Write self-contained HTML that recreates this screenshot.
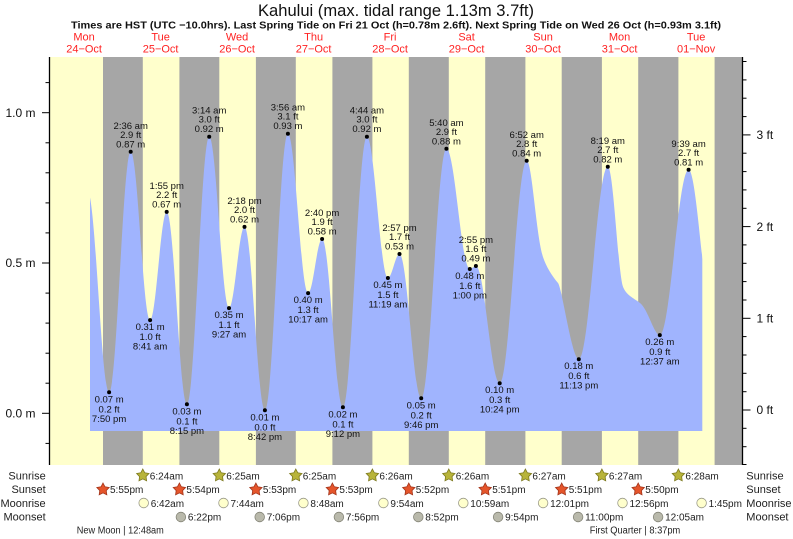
<!DOCTYPE html>
<html><head><meta charset="utf-8"><style>
html,body{margin:0;padding:0;background:#fff;}
svg{display:block;font-family:"Liberation Sans",Arial,sans-serif;}
</style></head><body>
<svg width="793" height="539" viewBox="0 0 793 539" xmlns="http://www.w3.org/2000/svg">
<defs>
<path id="star" d="M0,-6.5 L1.99,-2.75 L6.18,-2.01 L3.23,1.05 L3.82,5.26 L0,3.4 L-3.82,5.26 L-3.23,1.05 L-6.18,-2.01 L-1.99,-2.75Z"/>
<clipPath id="cp"><rect x="90" y="57" width="612.3" height="374"/></clipPath>
</defs>
<!-- title -->
<text x="396" y="16" font-size="16.5" text-anchor="middle" fill="#111" textLength="276" lengthAdjust="spacingAndGlyphs">Kahului (max. tidal range 1.13m 3.7ft)</text>
<text x="396" y="28.5" font-size="10.5" font-weight="bold" text-anchor="middle" fill="#111" textLength="650" lengthAdjust="spacingAndGlyphs">Times are HST (UTC −10.0hrs). Last Spring Tide on Fri 21 Oct (h=0.78m 2.6ft). Next Spring Tide on Wed 26 Oct (h=0.93m 3.1ft)</text>
<!-- day labels -->
<g font-size="11" fill="#f22" text-anchor="middle">
<text x="84.1" y="40.5">Mon</text><text x="84.1" y="52.7">24−Oct</text>
<text x="160.6" y="40.5">Tue</text><text x="160.6" y="52.7">25−Oct</text>
<text x="237.1" y="40.5">Wed</text><text x="237.1" y="52.7">26−Oct</text>
<text x="313.6" y="40.5">Thu</text><text x="313.6" y="52.7">27−Oct</text>
<text x="390.1" y="40.5">Fri</text><text x="390.1" y="52.7">28−Oct</text>
<text x="466.6" y="40.5">Sat</text><text x="466.6" y="52.7">29−Oct</text>
<text x="543.1" y="40.5">Sun</text><text x="543.1" y="52.7">30−Oct</text>
<text x="619.6" y="40.5">Mon</text><text x="619.6" y="52.7">31−Oct</text>
<text x="696.1" y="40.5">Tue</text><text x="696.1" y="52.7">01−Nov</text>
</g>
<!-- plot background -->
<rect x="50" y="57" width="692.5" height="408" fill="#ffffcc"/>
<g fill="#a6a6a6">
<rect x="103.0" y="57" width="39.8" height="408"/>
<rect x="179.4" y="57" width="39.9" height="408"/>
<rect x="255.9" y="57" width="39.9" height="408"/>
<rect x="332.4" y="57" width="40.0" height="408"/>
<rect x="408.8" y="57" width="40.0" height="408"/>
<rect x="485.2" y="57" width="40.2" height="408"/>
<rect x="561.7" y="57" width="40.2" height="408"/>
<rect x="638.2" y="57" width="40.2" height="408"/>
<rect x="714.6" y="57" width="27.9" height="408"/>
</g>
<!-- tide fill -->
<path clip-path="url(#cp)" fill="#a0b4fe" d="M87.5,431 L87.5,190.9
C95.4,190.9 101.2,392.3 109.1,392.3
C117.0,392.3 122.8,151.8 130.7,151.8
C137.8,151.8 143.0,320.1 150.1,320.1
C156.1,320.1 160.7,211.9 166.7,211.9
C174.1,211.9 179.5,404.3 186.9,404.3
C195.0,404.3 201.1,136.7 209.2,136.7
C216.4,136.7 221.8,308.1 229.0,308.1
C234.6,308.1 238.9,226.9 244.5,226.9
C251.9,226.9 257.5,410.3 264.9,410.3
C273.3,410.3 279.5,133.7 287.9,133.7
C295.3,133.7 300.7,293.1 308.1,293.1
C313.2,293.1 317.0,239.0 322.1,239.0
C329.7,239.0 335.3,407.3 342.9,407.3
C351.6,407.3 358.2,136.7 366.9,136.7
C374.5,136.7 380.3,278.0 387.9,278.0
C392.1,278.0 395.3,254.0 399.5,254.0
C407.4,254.0 413.3,398.3 421.2,398.3
C430.4,398.3 437.2,148.8 446.4,148.8
C454.9,148.8 461.3,269.0 469.8,269.0
C472.0,269.0 473.7,266.0 475.9,266.0
C484.6,266.0 491.0,383.2 499.7,383.2
C509.5,383.2 516.9,160.8 526.7,160.8
C532.0,160.8 536.0,235.0 543.0,257.0
C546.0,266.4 552.0,276.0 558.0,283.0
C562.0,287.7 572.0,359.2 578.8,359.2
C589.4,359.2 597.2,166.8 607.8,166.8
C613.0,166.8 617.0,255.0 622.0,283.0
C624.0,294.0 632.0,297.0 640.0,303.0
C648.0,309.0 654.0,335.1 659.8,335.1
C670.3,335.1 678.1,169.8 688.6,169.8
C697.1,169.8 703.5,308.1 712.0,308.1
L712,431 Z"/>
<!-- axes -->
<g stroke="#000" stroke-width="1.3">
<line x1="49.5" y1="57" x2="49.5" y2="465"/>
<line x1="742.5" y1="57" x2="742.5" y2="465"/>
</g>
<g stroke="#000" stroke-width="1">
<line x1="42" y1="413.3" x2="49.5" y2="413.3"/>
<line x1="42" y1="263.0" x2="49.5" y2="263.0"/>
<line x1="42" y1="112.7" x2="49.5" y2="112.7"/>
<line x1="45.5" y1="443.4" x2="49.5" y2="443.4"/>
<line x1="45.5" y1="383.2" x2="49.5" y2="383.2"/>
<line x1="45.5" y1="353.2" x2="49.5" y2="353.2"/>
<line x1="45.5" y1="323.1" x2="49.5" y2="323.1"/>
<line x1="45.5" y1="293.1" x2="49.5" y2="293.1"/>
<line x1="45.5" y1="232.9" x2="49.5" y2="232.9"/>
<line x1="45.5" y1="202.9" x2="49.5" y2="202.9"/>
<line x1="45.5" y1="172.8" x2="49.5" y2="172.8"/>
<line x1="45.5" y1="142.8" x2="49.5" y2="142.8"/>
<line x1="45.5" y1="82.6" x2="49.5" y2="82.6"/>
<line x1="742.5" y1="410" x2="750.5" y2="410"/>
<line x1="742.5" y1="318.3" x2="750.5" y2="318.3"/>
<line x1="742.5" y1="226.6" x2="750.5" y2="226.6"/>
<line x1="742.5" y1="134.9" x2="750.5" y2="134.9"/>
<line x1="742.5" y1="464.5" x2="746.5" y2="464.5"/>
<line x1="742.5" y1="446.7" x2="746.5" y2="446.7"/>
<line x1="742.5" y1="428.3" x2="746.5" y2="428.3"/>
<line x1="742.5" y1="391.7" x2="746.5" y2="391.7"/>
<line x1="742.5" y1="373.3" x2="746.5" y2="373.3"/>
<line x1="742.5" y1="355.0" x2="746.5" y2="355.0"/>
<line x1="742.5" y1="336.6" x2="746.5" y2="336.6"/>
<line x1="742.5" y1="300.0" x2="746.5" y2="300.0"/>
<line x1="742.5" y1="281.6" x2="746.5" y2="281.6"/>
<line x1="742.5" y1="263.3" x2="746.5" y2="263.3"/>
<line x1="742.5" y1="244.9" x2="746.5" y2="244.9"/>
<line x1="742.5" y1="208.3" x2="746.5" y2="208.3"/>
<line x1="742.5" y1="189.9" x2="746.5" y2="189.9"/>
<line x1="742.5" y1="171.6" x2="746.5" y2="171.6"/>
<line x1="742.5" y1="153.2" x2="746.5" y2="153.2"/>
<line x1="742.5" y1="116.6" x2="746.5" y2="116.6"/>
<line x1="742.5" y1="98.2" x2="746.5" y2="98.2"/>
<line x1="742.5" y1="79.9" x2="746.5" y2="79.9"/>
<line x1="742.5" y1="61.5" x2="746.5" y2="61.5"/>
</g>
<g font-size="12" fill="#111">
<text x="35.5" y="417.5" text-anchor="end">0.0 m</text>
<text x="35.5" y="267.2" text-anchor="end">0.5 m</text>
<text x="35.5" y="116.9" text-anchor="end">1.0 m</text>
<text x="756.5" y="414.2">0 ft</text>
<text x="756.5" y="322.5">1 ft</text>
<text x="756.5" y="230.8">2 ft</text>
<text x="756.5" y="139.1">3 ft</text>
</g>
<!-- tide dots -->
<g fill="#000">
<circle cx="109.1" cy="392.3" r="2"/><circle cx="130.7" cy="151.8" r="2"/>
<circle cx="150.1" cy="320.1" r="2"/><circle cx="166.7" cy="211.9" r="2"/>
<circle cx="186.9" cy="404.3" r="2"/><circle cx="209.2" cy="136.7" r="2"/>
<circle cx="229.0" cy="308.1" r="2"/><circle cx="244.5" cy="226.9" r="2"/>
<circle cx="264.9" cy="410.3" r="2"/><circle cx="287.9" cy="133.7" r="2"/>
<circle cx="308.1" cy="293.1" r="2"/><circle cx="322.1" cy="239.0" r="2"/>
<circle cx="342.9" cy="407.3" r="2"/><circle cx="366.9" cy="136.7" r="2"/>
<circle cx="387.9" cy="278.0" r="2"/><circle cx="399.5" cy="254.0" r="2"/>
<circle cx="421.2" cy="398.3" r="2"/><circle cx="446.4" cy="148.8" r="2"/>
<circle cx="469.8" cy="269.0" r="2"/><circle cx="475.9" cy="266.0" r="2"/>
<circle cx="499.7" cy="383.2" r="2"/><circle cx="526.7" cy="160.8" r="2"/>
<circle cx="578.8" cy="359.2" r="2"/><circle cx="607.8" cy="166.8" r="2"/>
<circle cx="659.8" cy="335.1" r="2"/><circle cx="688.6" cy="169.8" r="2"/>
</g>
<!-- tide labels -->
<g font-size="9.5" fill="#111" text-anchor="middle">
<text x="130.7" y="128.8">2:36 am</text><text x="130.7" y="137.8">2.9 ft</text><text x="130.7" y="147.3">0.87 m</text>
<text x="166.7" y="188.9">1:55 pm</text><text x="166.7" y="197.9">2.2 ft</text><text x="166.7" y="207.4">0.67 m</text>
<text x="209.2" y="113.7">3:14 am</text><text x="209.2" y="122.7">3.0 ft</text><text x="209.2" y="132.2">0.92 m</text>
<text x="244.5" y="203.9">2:18 pm</text><text x="244.5" y="212.9">2.0 ft</text><text x="244.5" y="222.4">0.62 m</text>
<text x="287.9" y="110.7">3:56 am</text><text x="287.9" y="119.7">3.1 ft</text><text x="287.9" y="129.2">0.93 m</text>
<text x="322.1" y="216.0">2:40 pm</text><text x="322.1" y="225.0">1.9 ft</text><text x="322.1" y="234.5">0.58 m</text>
<text x="366.9" y="113.7">4:44 am</text><text x="366.9" y="122.7">3.0 ft</text><text x="366.9" y="132.2">0.92 m</text>
<text x="399.5" y="231.0">2:57 pm</text><text x="399.5" y="240.0">1.7 ft</text><text x="399.5" y="249.5">0.53 m</text>
<text x="446.4" y="125.8">5:40 am</text><text x="446.4" y="134.8">2.9 ft</text><text x="446.4" y="144.3">0.88 m</text>
<text x="475.9" y="243.0">2:55 pm</text><text x="475.9" y="252.0">1.6 ft</text><text x="475.9" y="261.5">0.49 m</text>
<text x="526.7" y="137.8">6:52 am</text><text x="526.7" y="146.8">2.8 ft</text><text x="526.7" y="156.3">0.84 m</text>
<text x="607.8" y="143.8">8:19 am</text><text x="607.8" y="152.8">2.7 ft</text><text x="607.8" y="162.3">0.82 m</text>
<text x="688.6" y="146.8">9:39 am</text><text x="688.6" y="155.8">2.7 ft</text><text x="688.6" y="165.3">0.81 m</text>

<text x="109.1" y="402.3">0.07 m</text><text x="109.1" y="412.3">0.2 ft</text><text x="109.1" y="421.8">7:50 pm</text>
<text x="150.1" y="330.1">0.31 m</text><text x="150.1" y="340.1">1.0 ft</text><text x="150.1" y="349.6">8:41 am</text>
<text x="186.9" y="414.3">0.03 m</text><text x="186.9" y="424.3">0.1 ft</text><text x="186.9" y="433.8">8:15 pm</text>
<text x="229.0" y="318.1">0.35 m</text><text x="229.0" y="328.1">1.1 ft</text><text x="229.0" y="337.6">9:27 am</text>
<text x="264.9" y="420.3">0.01 m</text><text x="264.9" y="430.3">0.0 ft</text><text x="264.9" y="439.8">8:42 pm</text>
<text x="308.1" y="303.1">0.40 m</text><text x="308.1" y="313.1">1.3 ft</text><text x="308.1" y="322.6">10:17 am</text>
<text x="342.9" y="417.3">0.02 m</text><text x="342.9" y="427.3">0.1 ft</text><text x="342.9" y="436.8">9:12 pm</text>
<text x="387.9" y="288.0">0.45 m</text><text x="387.9" y="298.0">1.5 ft</text><text x="387.9" y="307.5">11:19 am</text>
<text x="421.2" y="408.3">0.05 m</text><text x="421.2" y="418.3">0.2 ft</text><text x="421.2" y="427.8">9:46 pm</text>
<text x="469.8" y="279.0">0.48 m</text><text x="469.8" y="289.0">1.6 ft</text><text x="469.8" y="298.5">1:00 pm</text>
<text x="499.7" y="393.2">0.10 m</text><text x="499.7" y="403.2">0.3 ft</text><text x="499.7" y="412.7">10:24 pm</text>
<text x="578.8" y="369.2">0.18 m</text><text x="578.8" y="379.2">0.6 ft</text><text x="578.8" y="388.7">11:13 pm</text>
<text x="659.8" y="345.1">0.26 m</text><text x="659.8" y="355.1">0.9 ft</text><text x="659.8" y="364.6">12:37 am</text>
</g>
<!-- row labels -->
<g font-size="11" fill="#222">
<text x="45.7" y="479.3" text-anchor="end">Sunrise</text>
<text x="45.7" y="493.2" text-anchor="end">Sunset</text>
<text x="45.7" y="506.8" text-anchor="end">Moonrise</text>
<text x="45.7" y="520.7" text-anchor="end">Moonset</text>
<text x="746.3" y="479.3">Sunrise</text>
<text x="746.3" y="493.2">Sunset</text>
<text x="746.3" y="506.8">Moonrise</text>
<text x="746.3" y="520.7">Moonset</text>
</g>
<!-- sunrise stars -->
<g fill="#b8b43a" stroke="#7d7a1e" stroke-width="0.8">
<use href="#star" x="142.8" y="475.5"/><use href="#star" x="219.3" y="475.5"/>
<use href="#star" x="295.8" y="475.5"/><use href="#star" x="372.4" y="475.5"/>
<use href="#star" x="448.8" y="475.5"/><use href="#star" x="525.4" y="475.5"/>
<use href="#star" x="601.9" y="475.5"/><use href="#star" x="678.4" y="475.5"/>
</g>
<g fill="#e5552b" stroke="#a3341a" stroke-width="0.8">
<use href="#star" x="103.0" y="489.5"/><use href="#star" x="179.4" y="489.5"/>
<use href="#star" x="255.9" y="489.5"/><use href="#star" x="332.4" y="489.5"/>
<use href="#star" x="408.8" y="489.5"/><use href="#star" x="485.2" y="489.5"/>
<use href="#star" x="561.7" y="489.5"/><use href="#star" x="638.2" y="489.5"/>
</g>
<g fill="#ffffcc" stroke="#9a9a8a" stroke-width="0.8">
<circle cx="143.7" cy="503" r="4.8"/><circle cx="223.5" cy="503" r="4.8"/>
<circle cx="303.4" cy="503" r="4.8"/><circle cx="383.4" cy="503" r="4.8"/>
<circle cx="463.3" cy="503" r="4.8"/><circle cx="543.1" cy="503" r="4.8"/>
<circle cx="622.5" cy="503" r="4.8"/><circle cx="701.6" cy="503" r="4.8"/>
</g>
<g fill="#b9b9ab" stroke="#858578" stroke-width="0.8">
<circle cx="180.9" cy="517" r="4.8"/><circle cx="259.7" cy="517" r="4.8"/>
<circle cx="338.9" cy="517" r="4.8"/><circle cx="418.3" cy="517" r="4.8"/>
<circle cx="498.1" cy="517" r="4.8"/><circle cx="578.1" cy="517" r="4.8"/>
<circle cx="658.1" cy="517" r="4.8"/>
</g>
<g font-size="10" fill="#222">
<text x="149.8" y="479.3">6:24am</text><text x="226.3" y="479.3">6:25am</text>
<text x="302.8" y="479.3">6:25am</text><text x="379.4" y="479.3">6:26am</text>
<text x="455.8" y="479.3">6:26am</text><text x="532.4" y="479.3">6:27am</text>
<text x="608.9" y="479.3">6:27am</text><text x="685.4" y="479.3">6:28am</text>

<text x="110.0" y="493.2">5:55pm</text><text x="186.4" y="493.2">5:54pm</text>
<text x="262.9" y="493.2">5:53pm</text><text x="339.4" y="493.2">5:53pm</text>
<text x="415.8" y="493.2">5:52pm</text><text x="492.2" y="493.2">5:51pm</text>
<text x="568.7" y="493.2">5:51pm</text><text x="645.2" y="493.2">5:50pm</text>

<text x="150.7" y="506.8">6:42am</text><text x="230.5" y="506.8">7:44am</text>
<text x="310.4" y="506.8">8:48am</text><text x="390.4" y="506.8">9:54am</text>
<text x="470.3" y="506.8">10:59am</text><text x="550.1" y="506.8">12:01pm</text>
<text x="629.5" y="506.8">12:56pm</text><text x="708.6" y="506.8">1:45pm</text>

<text x="187.9" y="520.7">6:22pm</text><text x="266.7" y="520.7">7:06pm</text>
<text x="345.9" y="520.7">7:56pm</text><text x="425.3" y="520.7">8:52pm</text>
<text x="505.1" y="520.7">9:54pm</text><text x="585.1" y="520.7">11:00pm</text>
<text x="665.1" y="520.7">12:05am</text>
</g>
<g font-size="10" fill="#222" text-anchor="middle">
<text x="120.3" y="533.3" textLength="87" lengthAdjust="spacingAndGlyphs">New Moon | 12:48am</text>
<text x="635" y="533.3" textLength="90.6" lengthAdjust="spacingAndGlyphs">First Quarter | 8:37pm</text>
</g>
</svg>
</body></html>
